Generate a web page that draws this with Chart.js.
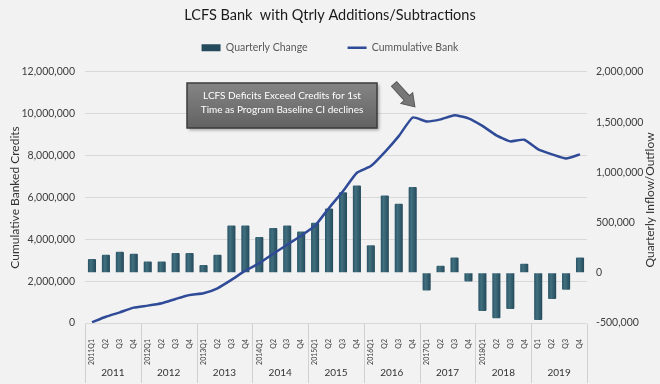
<!DOCTYPE html>
<html>
<head>
<meta charset="utf-8">
<script src="https://cdn.jsdelivr.net/npm/chart.js@4"></script>
<style>
  html, body { margin: 0; padding: 0; background: #f2f2f2; }
  #wrap { width: 660px; height: 384px; }
</style>
</head>
<body>
<div id="wrap"><canvas id="chartBank" width="660" height="384"></canvas></div>
<script>
// quarters, years and the two series
var quarters = ['2011Q1','Q2','Q3','Q4','2012Q1','Q2','Q3','Q4','2013Q1','Q2','Q3','Q4',
  '2014Q1','Q2','Q3','Q4','2015Q1','Q2','Q3','Q4','2016Q1','Q2','Q3','Q4',
  '2017Q1','Q2','Q3','Q4','2018Q1','Q2','Q3','Q4','Q1','Q2','Q3','Q4'];
var years = ['2011','2012','2013','2014','2015','2016','2017','2018','2019'];

var quarterlyChange = [137000, 180000, 210000, 190000, 113000, 113000, 197000, 197000,
  77000, 180000, 470000, 470000, 357000, 447000, 470000, 410000,
  497000, 640000, 803000, 870000, 273000, 770000, 687000, 853000,
  -177000, 70000, 153000, -87000, -380000, -453000, -360000, 90000,
  -470000, -260000, -170000, 153000];

var cumulativeBank = [40000, 300000, 510000, 735000, 830000, 945000, 1150000, 1340000,
  1420000, 1660000, 2060000, 2500000, 2860000, 3310000, 3740000, 4170000,
  4650000, 5500000, 6300000, 7180000, 7500000, 8170000, 8930000, 9820000,
  9630000, 9730000, 9930000, 9780000, 9420000, 8970000, 8680000, 8760000,
  8300000, 8060000, 7860000, 8060000];

var leftTicks = [0, 12000000, 2000000];
var rightTicks = [-500000, 2000000, 500000];

var FONT = 'Lato';
var fmt = function (v) { return Number(v).toLocaleString('en-US'); };

// shaded bar fill, like the cylinder look of the original
function barFill(context) {
  var chart = context.chart;
  if (!chart.chartArea || !chart.scales.x) return '#2f5d70';
  var cx = chart.scales.x.getPixelForValue(context.dataIndex);
  var g = chart.ctx.createLinearGradient(cx - 4, 0, cx + 4, 0);
  g.addColorStop(0, '#2a5466');
  g.addColorStop(0.35, '#41707f');
  g.addColorStop(1, '#244a5b');
  return g;
}

// extra room under the legend
var legendSpace = {
  id: 'legendSpace',
  beforeInit: function (chart) {
    var origFit = chart.legend.fit;
    chart.legend.fit = function () {
      origFit.bind(chart.legend)();
      this.height += 9;
    };
  }
};

// year separators, right axis title, callout box + arrow
var extras = {
  id: 'extras',
  afterDraw: function (chart) {
    var ctx = chart.ctx;
    var a = chart.chartArea;
    var step = (a.right - a.left) / years.length;
    ctx.save();
    ctx.strokeStyle = '#d0d0d0';
    ctx.lineWidth = 1;
    for (var k = 0; k <= years.length; k++) {
      var px = Math.round(a.left + k * step) + 0.5;
      ctx.beginPath();
      ctx.moveTo(px, a.bottom + 1);
      ctx.lineTo(px, 383);
      ctx.stroke();
    }
    ctx.restore();

    // right title reads bottom to top
    ctx.save();
    ctx.translate(650, 200);
    ctx.rotate(-Math.PI / 2);
    ctx.font = '12px ' + FONT;
    ctx.fillStyle = '#333333';
    ctx.textAlign = 'center';
    ctx.textBaseline = 'middle';
    ctx.fillText('Quarterly Inflow/Outflow', 0, 0);
    ctx.restore();

    // callout
    ctx.save();
    ctx.shadowColor = 'rgba(0,0,0,0.35)';
    ctx.shadowBlur = 3;
    ctx.shadowOffsetX = 2;
    ctx.shadowOffsetY = 2;
    var g = ctx.createLinearGradient(0, 83, 0, 128);
    g.addColorStop(0, '#858585');
    g.addColorStop(1, '#626262');
    ctx.fillStyle = g;
    ctx.fillRect(187, 83, 190, 45);
    ctx.shadowColor = 'transparent';
    ctx.strokeStyle = '#3c3c3c';
    ctx.lineWidth = 1.5;
    ctx.strokeRect(187, 83, 190, 45);
    ctx.fillStyle = '#ffffff';
    ctx.font = '10px ' + FONT;
    ctx.textAlign = 'center';
    ctx.textBaseline = 'middle';
    ctx.fillText('LCFS Deficits Exceed Credits for 1st', 282, 96);
    ctx.fillText('Time as Program Baseline CI declines', 282, 110);
    ctx.restore();

    // arrow
    ctx.save();
    ctx.translate(394, 84);
    ctx.rotate(Math.atan2(23, 21));
    ctx.beginPath();
    ctx.moveTo(0, -3.5);
    ctx.lineTo(19, -3.5);
    ctx.lineTo(19, -8);
    ctx.lineTo(31, 0);
    ctx.lineTo(19, 8);
    ctx.lineTo(19, 3.5);
    ctx.lineTo(0, 3.5);
    ctx.closePath();
    ctx.fillStyle = '#777777';
    ctx.fill();
    ctx.strokeStyle = '#5a5a5a';
    ctx.lineWidth = 1;
    ctx.stroke();
    ctx.restore();
  }
};

var chartBank = document.getElementById('chartBank').getContext('2d');
new Chart(chartBank, {
  type: 'bar',
  data: {
    labels: quarters,
    datasets: [{
      type: 'bar',
      label: 'Quarterly Change',
      data: quarterlyChange,
      yAxisID: 'y1',
      xAxisID: 'x',
      backgroundColor: barFill,
      borderWidth: 0,
      borderRadius: 1,
      barPercentage: 0.58,
      categoryPercentage: 1,
      pointStyle: 'rect',
      order: 1
    }, {
      type: 'line',
      label: 'Cummulative Bank',
      data: cumulativeBank,
      yAxisID: 'y',
      xAxisID: 'x',
      borderColor: '#2f4b97',
      backgroundColor: '#2f4b97',
      borderWidth: 2.5,
      pointRadius: 0,
      tension: 0.15,
      pointStyle: 'line',
      order: 0
    }]
  },
  options: {
    responsive: false,
    animation: false,
    layout: { padding: 0 },
    plugins: {
      title: {
        display: true,
        text: 'LCFS Bank  with Qtrly Additions/Subtractions',
        color: '#1a1a1a',
        font: { family: FONT, size: 14.5, weight: 'normal' },
        padding: { top: 7, bottom: -22 }
      },
      legend: {
        position: 'top',
        labels: {
          usePointStyle: true,
          pointStyleWidth: 19,
          boxHeight: 7,
          padding: 40,
          color: '#595959',
          font: { family: FONT, size: 10.5 },
          sort: function (a, b) { return a.datasetIndex - b.datasetIndex; }
        }
      },
      tooltip: { enabled: false }
    },
    scales: {
      x: {
        type: 'category',
        position: 'bottom',
        grid: { display: false, drawTicks: false },
        border: { display: false },
        ticks: {
          autoSkip: false,
          minRotation: 90,
          maxRotation: 90,
          padding: 16,
          color: '#404040',
          font: { family: FONT, size: 7 }
        },
        afterFit: function (s) { s.height = 43; }
      },
      x2: {
        type: 'category',
        position: 'bottom',
        labels: years,
        offset: true,
        grid: { display: false, drawTicks: false },
        border: { display: false },
        ticks: {
          padding: 1,
          color: '#333333',
          font: { family: FONT, size: 10 }
        },
        afterFit: function (s) { s.height = 18; }
      },
      y: {
        position: 'left',
        min: leftTicks[0],
        max: leftTicks[1],
        ticks: {
          stepSize: leftTicks[2],
          padding: 10,
          color: '#404040',
          font: { family: FONT, size: 10.5 },
          callback: fmt
        },
        grid: { color: '#d9d9d9', drawTicks: false },
        border: { display: false },
        title: {
          display: true,
          text: 'Cumulative Banked Credits',
          color: '#333333',
          font: { family: FONT, size: 12 },
          padding: { top: 8, bottom: 0 }
        },
        afterFit: function (s) { s.width = 85; }
      },
      y1: {
        position: 'right',
        min: rightTicks[0],
        max: rightTicks[1],
        ticks: {
          stepSize: rightTicks[2],
          padding: 9,
          color: '#404040',
          font: { family: FONT, size: 10.5 },
          callback: fmt
        },
        grid: { drawOnChartArea: false, drawTicks: false },
        border: { display: false },
        afterFit: function (s) { s.width = 73; }
      }
    }
  },
  plugins: [legendSpace, extras]
});
</script>
</body>
</html>
